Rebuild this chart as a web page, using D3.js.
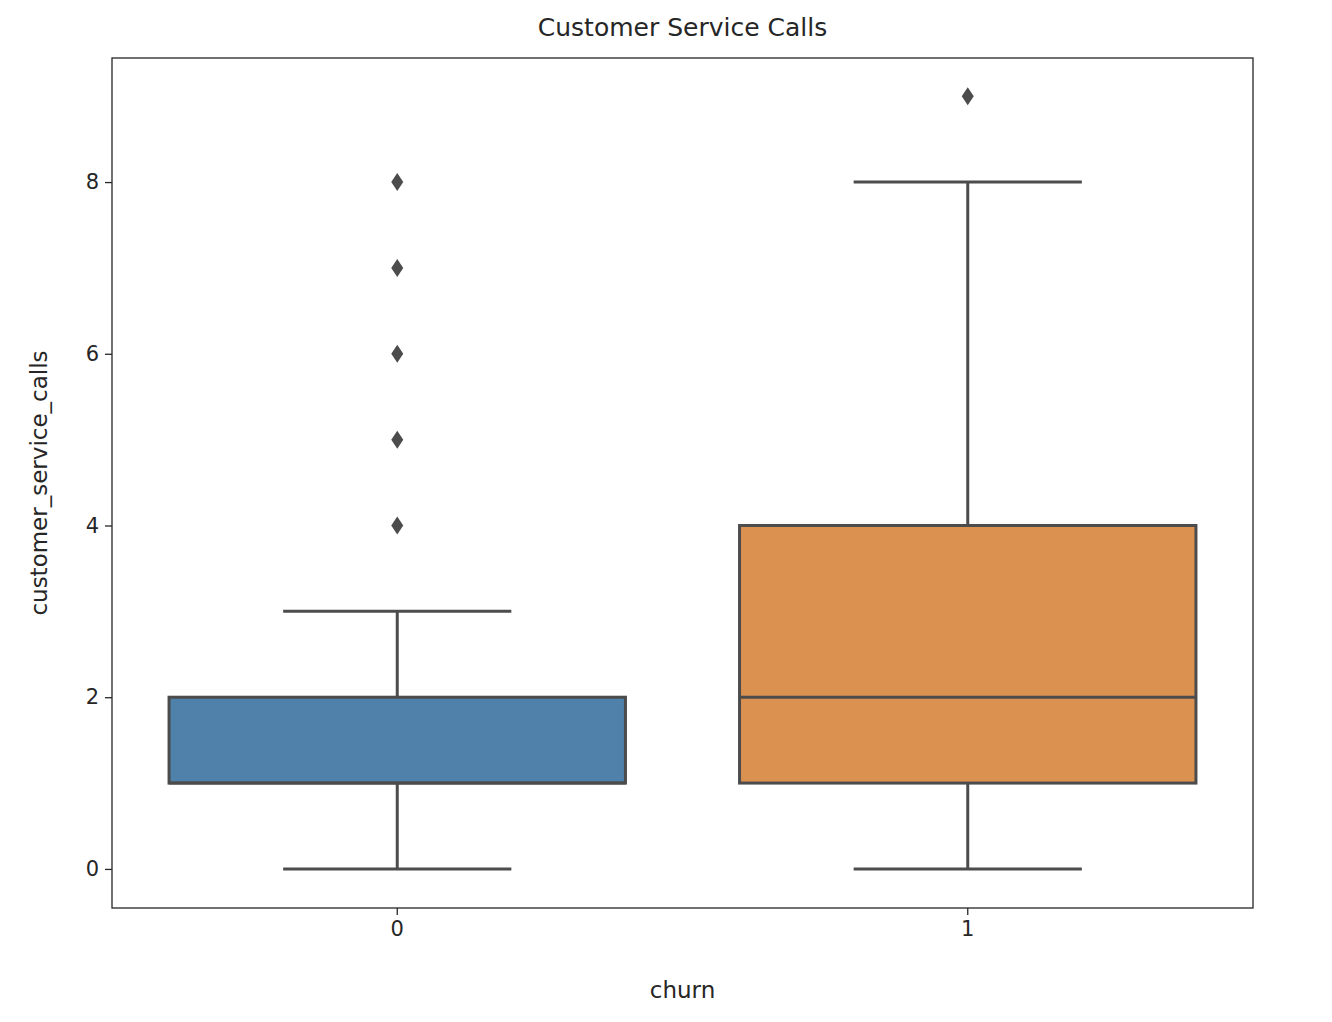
<!DOCTYPE html>
<html><head><meta charset="utf-8">
<script src="https://cdn.jsdelivr.net/npm/d3@7"></script>
<style>body{margin:0;background:#fff}text{font-family:"DejaVu Sans",sans-serif;fill:#262626}</style>
</head><body><div id="chart"></div>
<script>
const categories = ["0", "1"];
const q1 = [1, 1];
const median = [1, 2];
const q3 = [2, 4];
const whiskerLow = [0, 0];
const whiskerHigh = [3, 8];
const outliers = [[4, 5, 6, 7, 8], [9]];
const colors = ["#4f81ab", "#db914f"];
const yTicks = [0, 2, 4, 6, 8];

const margin = { top: 58, right: 79, bottom: 114, left: 112 };
const width = 1332 - margin.left - margin.right;
const height = 1022 - margin.top - margin.bottom;

const svg = d3.select("#chart").append("svg")
    .attr("width", 1332).attr("height", 1022);
const g = svg.append("g").attr("transform", `translate(${margin.left},${margin.top})`);

const x = d3.scaleBand().domain(categories).range([0, width]);
const y = d3.scaleLinear().domain([-0.455, 9.445]).range([height, 0]);

const line = "#4c4c4c";
const boxW = x.bandwidth() * 0.8;

categories.forEach((c, i) => {
    const cx = x(c) + x.bandwidth() / 2;
    const bg = g.append("g");
    bg.append("line").attr("x1", cx).attr("x2", cx).attr("y1", y(whiskerLow[i])).attr("y2", y(q1[i]))
        .attr("stroke", line).attr("stroke-width", 3);
    bg.append("line").attr("x1", cx).attr("x2", cx).attr("y1", y(q3[i])).attr("y2", y(whiskerHigh[i]))
        .attr("stroke", line).attr("stroke-width", 3);
    [whiskerLow[i], whiskerHigh[i]].forEach(v => {
        bg.append("line").attr("x1", cx - boxW / 4).attr("x2", cx + boxW / 4)
            .attr("y1", y(v)).attr("y2", y(v)).attr("stroke", line).attr("stroke-width", 3);
    });
    bg.append("rect").attr("x", cx - boxW / 2).attr("width", boxW)
        .attr("y", y(q3[i])).attr("height", y(q1[i]) - y(q3[i]))
        .attr("fill", colors[i]).attr("stroke", line).attr("stroke-width", 3);
    bg.append("line").attr("x1", cx - boxW / 2).attr("x2", cx + boxW / 2)
        .attr("y1", y(median[i])).attr("y2", y(median[i])).attr("stroke", line).attr("stroke-width", 3);
    bg.selectAll(".out").data(outliers[i]).enter().append("path")
        .attr("d", "M0,-9L6,0L0,9L-6,0Z")
        .attr("transform", d => `translate(${cx},${y(d)})`)
        .attr("fill", line);
});

const xa = g.append("g").attr("transform", `translate(0,${height})`)
    .call(d3.axisBottom(x).tickSize(7).tickPadding(6));
const ya = g.append("g").call(d3.axisLeft(y).tickValues(yTicks).tickSize(7).tickPadding(6));
[xa, ya].forEach(a => {
    a.select(".domain").remove();
    a.selectAll("line").attr("stroke", "#262626").attr("stroke-width", 1.3);
    a.selectAll("text").style("font-size", "21px").attr("fill", "#262626");
});

g.append("rect").attr("width", width).attr("height", height)
    .attr("fill", "none").attr("stroke", "#262626").attr("stroke-width", 1.3);

svg.append("text").attr("x", margin.left + width / 2).attr("y", 36)
    .attr("text-anchor", "middle").style("font-size", "25px").text("Customer Service Calls");
svg.append("text").attr("x", margin.left + width / 2).attr("y", 998)
    .attr("text-anchor", "middle").style("font-size", "23px").text("churn");
svg.append("text").attr("transform", `translate(47,${margin.top + height / 2}) rotate(-90)`)
    .attr("text-anchor", "middle").style("font-size", "23px").text("customer_service_calls");
</script></body></html>
